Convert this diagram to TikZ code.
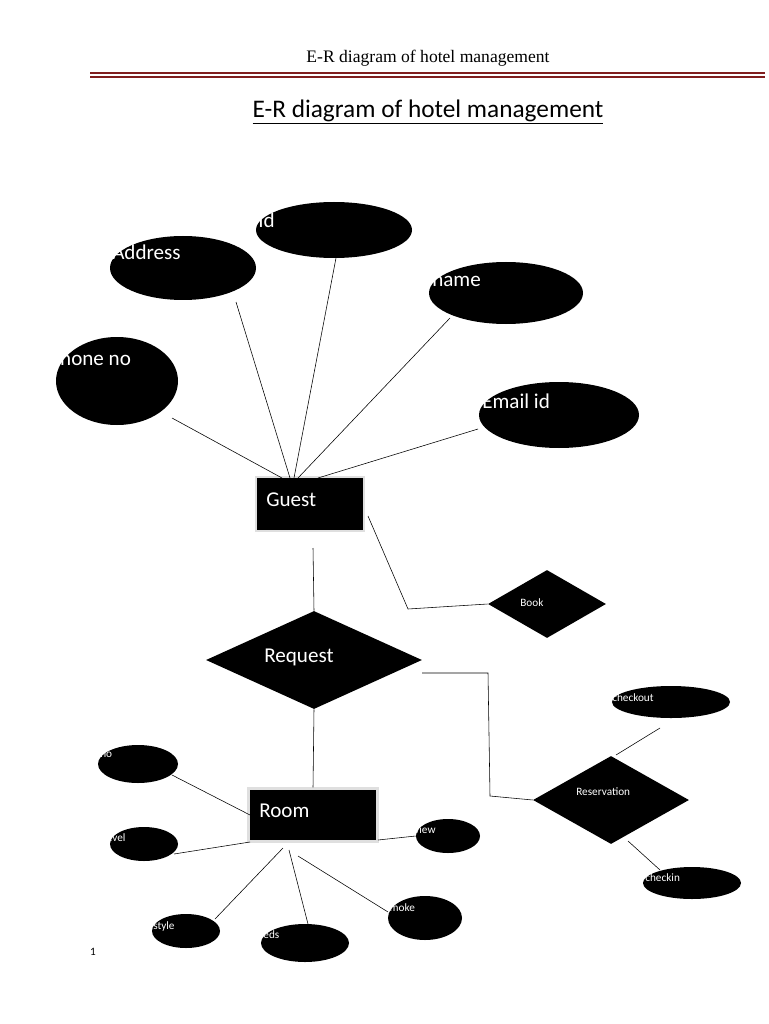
\documentclass[tikz,border=0pt]{standalone}
\usepackage{fontspec}
\setmainfont{Liberation Serif}
\newfontfamily\calfam{Carlito}
\usetikzlibrary{shapes.geometric}
\definecolor{hdred}{RGB}{128,30,30}
\newdimen\pxu \pxu=0.25mm
\tikzset{
  attr/.style={ellipse,fill=black,inner sep=0pt},
  ent/.style={rectangle,fill=black,draw=gray!25,line width=1.5pt,inner sep=0pt},
  rel/.style={diamond,fill=black,inner sep=0pt,aspect=2},
  big/.style={text=white,anchor=west,font=\calfam\fontsize{15}{15}\selectfont,inner sep=0pt},
  small/.style={text=white,anchor=west,font=\calfam\fontsize{8}{8}\selectfont,inner sep=0pt},
  link/.style={thin}
}
\begin{document}
\begin{tikzpicture}[x=0.25mm,y=-0.25mm]
	\useasboundingbox (0,0) rectangle (768,1024);
	% header
	\node (hdr) at (428,58) {\fontsize{12.5}{12.5}\selectfont E-R diagram of hotel management};
	\draw[hdred,line width=2pt] (90,73) -- (765,73);
	\draw[hdred,line width=0.8pt] (90,77) -- (765,77);
	\node (ttl) at (428,112) {\calfam\fontsize{18}{18}\selectfont\underline{E-R diagram of hotel management}};

	% guest attributes
	\node[attr,minimum width=156\pxu,minimum height=56\pxu] (id) at (334,230) {};
	\node[big] (idtxt) at (258,220) {Id};
	\node[attr,minimum width=146\pxu,minimum height=64\pxu] (addr) at (183,268) {};
	\node[big] (addrtxt) at (112,252) {Address};
	\node[attr,minimum width=154\pxu,minimum height=62\pxu] (name) at (506,293) {};
	\node[big] (nametxt) at (432,281) {name};
	\node[attr,minimum width=122\pxu,minimum height=88\pxu] (phone) at (117,381) {};
	\node[big] (phonetxt) at (49,358) {Phone no};
	\node[attr,minimum width=160\pxu,minimum height=66\pxu] (email) at (559,415) {};
	\node[big] (emailtxt) at (482,401) {Email id};

	\node[ent,minimum width=108\pxu,minimum height=54\pxu] (guest) at (310,504) {};
	\node[big] (guesttxt) at (266,500) {Guest};
	\coordinate (g1) at (282,478);
	\coordinate (g2) at (290,478);
	\coordinate (g3) at (294,478);
	\coordinate (g4) at (298,478);
	\coordinate (g5) at (318,478);
	\draw[link] (172,418) -- (g1);
	\draw[link] (236,302) -- (g2);
	\draw[link] (336,258) -- (g3);
	\draw[link] (450,318) -- (g4);
	\draw[link] (478,429) -- (g5);

	% book
	\node[rel,minimum width=118\pxu,minimum height=68\pxu] (book) at (547,604) {};
	\node[small] (booktxt) at (520,603) {Book};
	\draw[link] (368,516) -- (408,609) -- (book.west);

	% request
	\node[rel,minimum width=216\pxu,minimum height=98\pxu] (req) at (314,660) {};
	\node[big] (reqtxt) at (264,657) {Request};
	\draw[link] (313,548) -- (req.north);

	% room
	\node[ent,minimum width=129\pxu,minimum height=53\pxu] (room) at (313,815) {};
	\node[big] (roomtxt) at (259,811) {Room};
	\draw[link] (req.south) -- (room.north);

	% reservation
	\node[rel,minimum width=156\pxu,minimum height=88\pxu] (resv) at (611,800) {};
	\node[small] (resvtxt) at (576,792) {Reservation};
	\draw[link] (422,673) -- (488,673) -- (490,796) -- (resv.west);
	\node[attr,minimum width=118\pxu,minimum height=32\pxu] (chout) at (671,702) {};
	\node[small] (chouttxt) at (612,698) {checkout};
	\node[attr,minimum width=98\pxu,minimum height=32\pxu] (chin) at (692,883) {};
	\node[small] (chintxt) at (645,878) {checkin};
	\draw[link] (660,728) -- (616,755);
	\draw[link] (628,841) -- (660,870);

	% room attributes
	\node[attr,minimum width=80\pxu,minimum height=38\pxu] (no) at (138,764) {};
	\node[small] (notxt) at (100,755) {no};
	\node[attr,minimum width=68\pxu,minimum height=34\pxu] (level) at (144,844) {};
	\node[small] (leveltxt) at (104,838) {level};
	\node[attr,minimum width=64\pxu,minimum height=34\pxu] (view) at (448,836) {};
	\node[small] (viewtxt) at (414,830) {view};
	\node[attr,minimum width=68\pxu,minimum height=34\pxu] (style) at (186,931) {};
	\node[small] (styletxt) at (153,926) {style};
	\node[attr,minimum width=88\pxu,minimum height=38\pxu] (beds) at (305,943) {};
	\node[small] (bedstxt) at (257,935) {Beds};
	\node[attr,minimum width=74\pxu,minimum height=44\pxu] (smoke) at (425,918) {};
	\node[small] (smoketxt) at (385,908) {smoke};
	\draw[link] (172,775) -- (250,815);
	\draw[link] (174,854) -- (250,842);
	\draw[link] (378,840) -- (view.west);
	\draw[link] (215,919) -- (283,848);
	\draw[link] (308,924) -- (289,850);
	\draw[link] (388,912) -- (298,856);

	\node (pg) at (93,952) {\calfam\fontsize{8}{8}\selectfont 1};
\end{tikzpicture}
\end{document}
